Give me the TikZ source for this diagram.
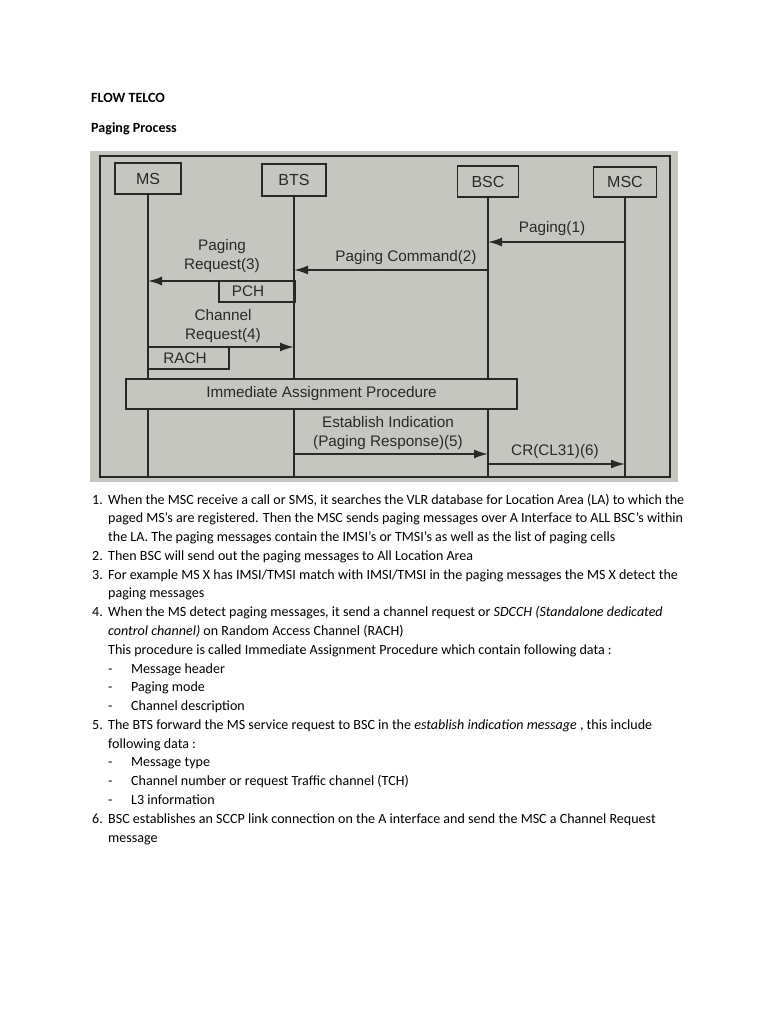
\documentclass[tikz,border=0pt]{standalone}
\usepackage{fontspec}
\setmainfont{Carlito}
\newfontfamily\diagfont{Liberation Sans}
\usetikzlibrary{arrows.meta}
\definecolor{photobg}{RGB}{198,198,193}
\definecolor{ink}{RGB}{40,40,40}
\begin{document}
\begin{tikzpicture}[x=1pt,y=-1pt,
  actor/.style={draw=ink, line width=1.7pt, inner sep=0, font=\diagfont\fontsize{16}{18}\selectfont, text=ink, fill=photobg},
  life/.style={draw=ink, line width=1.4pt},
  msg/.style={draw=ink, line width=1.8pt, -{Latex[length=14pt,width=9pt]}},
  lbl/.style={font=\diagfont\fontsize{15.3}{19}\selectfont, text=ink, inner sep=0, align=center},
  chanbox/.style={draw=ink, line width=1.4pt, inner sep=0},
  body/.style={anchor=base west, inner sep=0, font=\fontsize{14.05}{16}\selectfont, text=black},
  head/.style={anchor=base west, inner sep=0, font=\bfseries\fontsize{14.05}{16}\selectfont, text=black},
]
\useasboundingbox (0,0) rectangle (768,1024);
\fill[white] (0,0) rectangle (768,1024);

% photo of the diagram
\fill[photobg] (90,151) rectangle (678,482);
\draw[ink, line width=1.4pt] (100,156) rectangle (670,477);

% actors
\node[actor, minimum width=66pt, minimum height=31pt] (ms)  at (148,178.5) {MS};
\node[actor, minimum width=64pt, minimum height=32pt] (bts) at (294,180) {BTS};
\node[actor, minimum width=61pt, minimum height=31pt] (bsc) at (488,181.5) {BSC};
\node[actor, minimum width=63pt, minimum height=30pt] (msc) at (625,182) {MSC};

% lifeline ends
\coordinate (msend)  at (148,477);
\coordinate (btsend) at (294,477);
\coordinate (bscend) at (488,477);
\coordinate (mscend) at (625,477);
\draw[life] (ms.south) -- (msend);
\draw[life] (bts.south) -- (btsend);
\draw[life] (bsc.south) -- (bscend);
\draw[life] (msc.south) -- (mscend);

% message end points
\coordinate (m1a) at (625,242); \coordinate (m1b) at (488,242);
\coordinate (m2a) at (488,270); \coordinate (m2b) at (294,270);
\coordinate (m3a) at (294,281); \coordinate (m3b) at (148,281);
\coordinate (m4a) at (148,347); \coordinate (m4b) at (294,347);
\coordinate (m5a) at (294,454); \coordinate (m5b) at (488,454);
\coordinate (m6a) at (488,464); \coordinate (m6b) at (625,464);

% channel boxes
\node[chanbox, minimum width=76pt, minimum height=21pt] (pch) at (257,291.5) {};
\node[lbl] (pchl) at (248,291.5) {PCH};
\node[chanbox, minimum width=81pt, minimum height=22pt] (rach) at (188.5,358) {};
\node[lbl] (rachl) at (185,358) {RACH};

% messages
\draw[msg] (m1a) -- (m1b);
\draw[msg] (m2a) -- (m2b);
\draw[msg] (m3a) -- (m3b);
\draw[msg] (m4a) -- (m4b);
\draw[msg] (m5a) -- (m5b);
\draw[msg] (m6a) -- (m6b);

% immediate assignment procedure
\node[chanbox, fill=photobg, minimum width=391pt, minimum height=30pt, font=\diagfont\fontsize{15.3}{18}\selectfont, text=ink] (iap) at (321.5,394) {Immediate Assignment Procedure};

% labels
\node[lbl] (l1) at (552,229) {Paging(1)};
\node[lbl] (l2) at (406,258) {Paging Command(2)};
\node[lbl] (l3) at (222,256) {Paging\\Request(3)};
\node[lbl] (l4) at (223,326.5) {Channel\\Request(4)};
\node[lbl] (l5) at (388,433.5) {Establish Indication\\(Paging Response)(5)};
\node[lbl] (l6) at (555,452) {CR(CL31)(6)};

% title
\node[head] (h1) at (91,103) {FLOW TELCO};
\node[head] (h2) at (91,133) {Paging Process};

% numbered text
\node[body] (n1) at (92,504) {1.};
\node[body] (t0) at (108,504) {When the MSC receive a call or SMS, it searches the VLR database for Location Area (LA) to which the};
\node[body] (t1) at (108,522.8) {paged MS’s are registered. Then the MSC sends paging messages over A Interface to ALL BSC’s within};
\node[body] (t2) at (108,541.6) {the LA. The paging messages contain the IMSI’s or TMSI’s as well as the list of paging cells};
\node[body] (n2) at (92,560.3) {2.};
\node[body] (t3) at (108,560.3) {Then BSC will send out the paging messages to All Location Area};
\node[body] (n3) at (92,579.1) {3.};
\node[body] (t4) at (108,579.1) {For example MS X has IMSI/TMSI match with IMSI/TMSI in the paging messages the MS X detect the};
\node[body] (t5) at (108,597.9) {paging messages};
\node[body] (n4) at (92,616.7) {4.};
\node[body] (t6) at (108,616.7) {When the MS detect paging messages, it send a channel request or \textit{SDCCH (Standalone dedicated}};
\node[body] (t7) at (108,635.5) {\textit{control channel)} on Random Access Channel (RACH)};
\node[body] (t8) at (108,654.2) {This procedure is called Immediate Assignment Procedure which contain following data :};
\node[body] (d1) at (108,673.0) {-};
\node[body] (t9) at (131,673.0) {Message header};
\node[body] (d2) at (108,691.8) {-};
\node[body] (t10) at (131,691.8) {Paging mode};
\node[body] (d3) at (108,710.6) {-};
\node[body] (t11) at (131,710.6) {Channel description};
\node[body] (n5) at (92,729.4) {5.};
\node[body] (t12) at (108,729.4) {The BTS forward the MS service request to BSC in the \textit{establish indication message} , this include};
\node[body] (t13) at (108,748.1) {following data :};
\node[body] (d4) at (108,766.9) {-};
\node[body] (t14) at (131,766.9) {Message type};
\node[body] (d5) at (108,785.7) {-};
\node[body] (t15) at (131,785.7) {Channel number or request Traffic channel (TCH)};
\node[body] (d6) at (108,804.5) {-};
\node[body] (t16) at (131,804.5) {L3 information};
\node[body] (n6) at (92,823.3) {6.};
\node[body] (t17) at (108,823.3) {BSC establishes an SCCP link connection on the A interface and send the MSC a Channel Request};
\node[body] (t18) at (108,842.0) {message};
\end{tikzpicture}
\end{document}
